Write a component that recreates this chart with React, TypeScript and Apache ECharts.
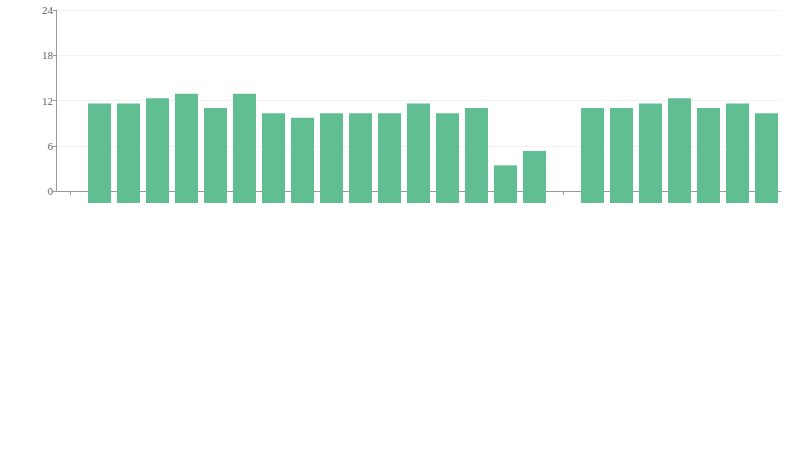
import React, { useEffect, useRef } from 'react';
import * as echarts from 'echarts';

// 横轴类目（标签不显示）
const categories = [
    '0', '1', '2', '3', '4', '5', '6', '7', '8', '9', '10', '11', '12',
    '13', '14', '15', '16', '17', '18', '19', '20', '21', '22', '23', '24',
];

// 柱顶数值（空位为 null）
const values: (number | null)[] = [
    null, 11.6, 11.6, 12.3, 12.9, 11.0, 12.9, 10.3, 9.7, 10.3, 10.3, 10.3, 11.6,
    10.3, 11.0, 3.4, 5.3, null, 11.0, 11.0, 11.6, 12.3, 11.0, 11.6, 10.3,
];

// 柱子底部位置（低于 0）
const barBase = -1.6;

// 只在这些类目上画刻度
const tickIndexes = [0, 17];

const yTicks = { min: 0, max: 24, interval: 6 };

const App = () => {
    const chartRef = useRef<HTMLDivElement>(null);

    useEffect(() => {
        if (!chartRef.current) return;
        const myChart = echarts.init(chartRef.current, null, { renderer: 'svg' });

        const baseData = values.map((v) => (v === null ? null : barBase));
        const barData = values.map((v) => (v === null ? null : +(v - barBase).toFixed(2)));

        const option = {
            animation: false,
            grid: { left: 56, top: 10, width: 725, height: 181, containLabel: false },
            xAxis: {
                type: 'category',
                data: categories,
                boundaryGap: true,
                axisLine: { show: true, lineStyle: { color: '#999999', width: 1 } },
                axisTick: {
                    show: true,
                    alignWithLabel: true,
                    length: 4,
                    interval: (index: number) => tickIndexes.includes(index),
                    lineStyle: { color: '#999999' },
                },
                axisLabel: { show: false },
                splitLine: { show: false },
            },
            yAxis: {
                type: 'value',
                min: yTicks.min,
                max: yTicks.max,
                interval: yTicks.interval,
                axisLine: { show: true, lineStyle: { color: '#999999', width: 1 } },
                axisTick: { show: true, length: 3, lineStyle: { color: '#999999' } },
                axisLabel: {
                    margin: 3,
                    color: '#666666',
                    fontSize: 11,
                    fontFamily: 'Liberation Serif, serif',
                },
                splitLine: { show: true, lineStyle: { color: '#f2f2f2', width: 1 } },
            },
            series: [
                {
                    name: 'base',
                    type: 'bar',
                    stack: 'bars',
                    stackStrategy: 'all',
                    clip: false,
                    barWidth: 23,
                    data: baseData,
                    itemStyle: { color: 'rgba(0,0,0,0)' },
                    silent: true,
                },
                {
                    name: 'value',
                    type: 'bar',
                    stack: 'bars',
                    stackStrategy: 'all',
                    clip: false,
                    barWidth: 23,
                    data: barData,
                    itemStyle: { color: '#61be93' },
                },
            ],
        };

        myChart.setOption(option as any);

        return () => {
            myChart.dispose();
        };
    }, []);

    return (
        <div
            ref={chartRef}
            style={{ position: 'absolute', left: 0, top: 0, width: 800, height: 450 }}
        ></div>
    );
};

export default App;
